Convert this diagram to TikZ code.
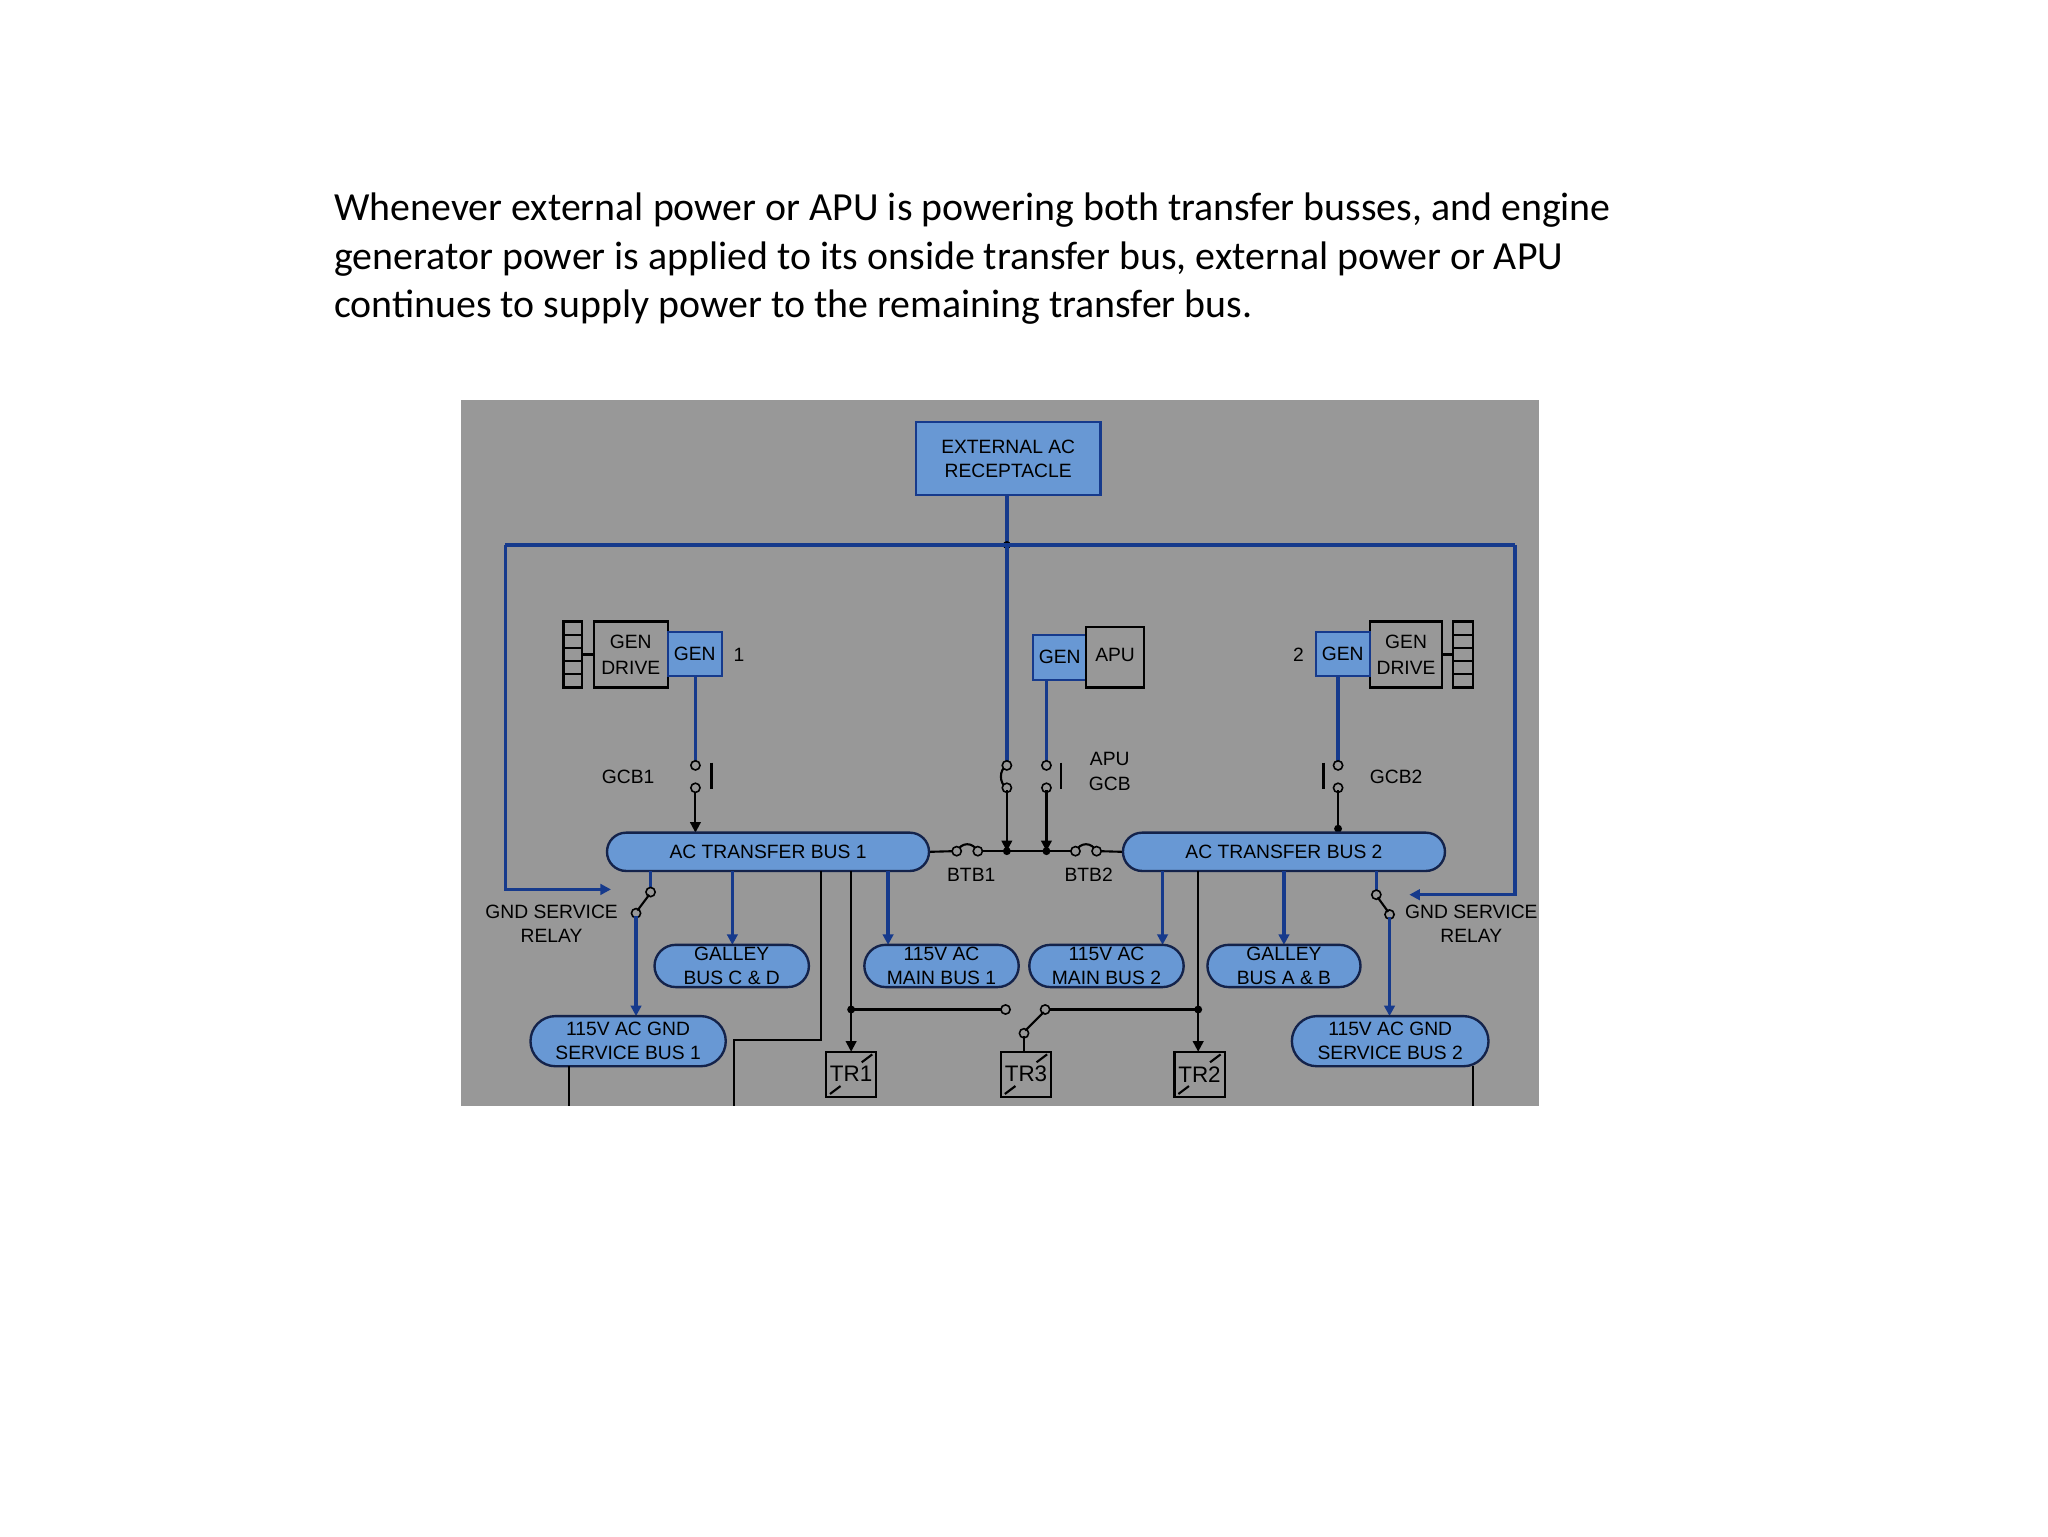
\documentclass[tikz,border=0pt]{standalone}
\usepackage{fontspec}
\setmainfont{Carlito}
\newfontfamily\dfont{Liberation Sans}
\usetikzlibrary{arrows.meta}
\definecolor{panel}{RGB}{152,152,152}
\definecolor{bfill}{RGB}{104,152,212}
\definecolor{bline}{RGB}{22,58,140}
\definecolor{pline}{RGB}{20,35,75}
\begin{document}
\begin{tikzpicture}[x=0.5pt,y=-0.5pt,
  lbl/.style={font=\dfont\fontsize{7.3}{8}\selectfont,inner sep=0,align=center},
  bx/.style={draw=black,line width=0.8pt},
  bbx/.style={draw=bline,fill=bfill,line width=0.8pt},
  rb/.style={draw=pline,fill=bfill,line width=0.9pt,rounded corners=#1,inner sep=0,align=center,font=\dfont\fontsize{7.3}{8}\selectfont},
  wire/.style={draw=bline,line width=1.3pt},
  bw/.style={draw=black,line width=0.8pt},
  arr/.style={-{Triangle[length=4pt,width=4pt]}},
  ct/.style={circle,draw=black,fill=panel,inner sep=0,minimum size=3.5pt,line width=0.6pt},
  dt/.style={circle,fill=black,inner sep=0,minimum size=3pt}]
\useasboundingbox (0,0) rectangle (1552,1164);
\node[anchor=north west,align=left,inner sep=0,font=\fontsize{15.1}{18.25}\selectfont] (title) at (253,146)
 {Whenever external power or APU is powering both transfer busses, and engine\\generator power is applied to its onside transfer bus, external power or APU\\continues to supply power to the remaining transfer bus.};
\fill[panel] (349,303) rectangle (1166,838);
\begin{scope}
\clip (349,303) rectangle (1166,838);
% external
\draw[bbx] (694,320) rectangle (834,375);
\node[lbl] (ext) at (764,347.5) {EXTERNAL AC\\[1pt]RECEPTACLE};
\coordinate (j) at (763,413);
\draw[wire] (763,375) -- (j);
\node[dt] at (j) {};
\draw[wire] (383,413) -- (1148,413);
\draw[wire,arr] (383,413) -- (383,674) -- (463,674);
\draw[wire,arr] (1148,413) -- (1148,678) -- (1068,678);
% gen 1
\draw[bx] (427,471) rectangle (441,521);
\foreach \y in {481,491,501,511} \draw[bw] (427,\y) -- (441,\y);
\draw[bw] (441,496) -- (450,496);
\draw[bx] (450,471) rectangle (506,521);
\node[lbl] (gd1) at (478,496) {GEN\\[2pt]DRIVE};
\draw[bbx] (506,479) rectangle (547,512);
\node[lbl] (g1) at (526.5,495.5) {GEN};
\node[lbl] at (560,496) {1};
% apu
\draw[bbx] (783,481) rectangle (823,515);
\node[lbl] (ga) at (803,498) {GEN};
\draw[bx] (823,475) rectangle (867,521);
\node[lbl] at (845,496) {APU};
% gen 2
\draw[bx] (1101,471) rectangle (1116,521);
\foreach \y in {481,491,501,511} \draw[bw] (1101,\y) -- (1116,\y);
\draw[bw] (1093,496) -- (1101,496);
\draw[bx] (1038,471) rectangle (1093,521);
\node[lbl] (gd2) at (1065.5,496) {GEN\\[2pt]DRIVE};
\draw[bbx] (997,479) rectangle (1038,512);
\node[lbl] (g2) at (1017.5,495.5) {GEN};
\node[lbl] at (984,496) {2};
% GCB1
\draw[wire] (527,512) -- (527,578);
\draw[bw,arr] (527,599) -- (527,631);
\node[ct] at (527,580) {}; \node[ct] at (527,597) {};
\draw[bw,line width=1pt] (539,578) -- (539,598);
\node[lbl] at (476,589) {GCB1};
% ext line
\draw[wire] (763,413) -- (763,578);
\draw[bw] (763,580) .. controls (757,583) and (757,594) .. (763,597);
\node[ct] at (763,580) {}; \node[ct] at (763,597) {};
\draw[bw,arr] (763,599) -- (763,645);
% APU GCB
\draw[wire] (793,515) -- (793,578);
\node[ct] at (793,580) {}; \node[ct] at (793,597) {};
\draw[bw,line width=1pt] (804,578) -- (804,598);
\draw[bw,arr] (793,599) -- (793,645);
\node[lbl] at (841,575) {APU};
\node[lbl] at (841,594) {GCB};
% GCB2
\draw[wire] (1014,512) -- (1014,578);
\node[ct] at (1014,580) {}; \node[ct] at (1014,597) {};
\draw[bw,line width=1pt] (1003,578) -- (1003,598);
\draw[bw] (1014,599) -- (1014,631);
\node[dt] at (1014,628) {};
\node[lbl] at (1058,589) {GCB2};
% buses
\node[rb=7.2pt,minimum width=122pt,minimum height=14.5pt] (tb1) at (582,645.5) {AC TRANSFER BUS 1};
\node[rb=7.2pt,minimum width=122pt,minimum height=14.5pt] (tb2) at (973,645.5) {AC TRANSFER BUS 2};
\draw[bw] (tb1.east) -- (723,645);
\draw[bw] (725,645) .. controls (729,638) and (737,638) .. (741,645);
\draw[bw] (743,645) -- (813,645);
\draw[bw] (815,645) .. controls (819,638) and (827,638) .. (831,645);
\draw[bw] (833,645) -- (tb2.west);
\node[ct] at (725,645) {}; \node[ct] at (741,645) {};
\node[ct] at (815,645) {}; \node[ct] at (831,645) {};
\node[dt] at (763,645) {}; \node[dt] at (793,645) {};
\node[lbl] at (736,663) {BTB1};
\node[lbl] at (825,663) {BTB2};
% GND service 1
\draw[wire] (493,660) -- (493,674);
\node[ct] at (493,676) {}; \node[ct] at (482,692) {};
\draw[bw] (492,678) -- (483,690);
\draw[wire,arr] (482,694) -- (482,770);
\node[lbl] at (418,700) {GND SERVICE\\[1pt]RELAY};
\node[rb=9.5pt,minimum width=74pt,minimum height=19pt] (gs1) at (476,789) {115V AC GND\\[1pt]SERVICE BUS 1};
\draw[bw] (431,808) -- (431,838);
% galley CD
\draw[wire,arr] (555,660) -- (555,716);
\node[rb=8pt,minimum width=58.5pt,minimum height=16pt] (gcd) at (554.5,732) {GALLEY\\[1pt]BUS C \& D};
\draw[bw] (622,660) -- (622,788) -- (556,788) -- (556,838);
% main 1
\draw[wire,arr] (673,660) -- (673,716);
\node[rb=8pt,minimum width=58.5pt,minimum height=16pt] (m1) at (713.5,732) {115V AC\\[1pt]MAIN BUS 1};
% main 2
\draw[wire,arr] (881,660) -- (881,716);
\node[rb=8pt,minimum width=58.5pt,minimum height=16pt] (m2) at (838.5,732) {115V AC\\[1pt]MAIN BUS 2};
% galley AB
\draw[wire,arr] (973,660) -- (973,716);
\node[rb=8pt,minimum width=58pt,minimum height=16pt] (gab) at (973,732) {GALLEY\\[1pt]BUS A \& B};
% GND service 2
\draw[wire] (1043,660) -- (1043,676);
\node[ct] at (1043,678) {}; \node[ct] at (1053,693) {};
\draw[bw] (1044,680) -- (1052,691);
\draw[wire,arr] (1053,695) -- (1053,770);
\node[lbl] at (1115,700) {GND SERVICE\\[1pt]RELAY};
\node[rb=9.5pt,minimum width=74.5pt,minimum height=19pt] (gs2) at (1053.5,789) {115V AC GND\\[1pt]SERVICE BUS 2};
\draw[bw] (1116,808) -- (1116,838);
% TRs
\draw[bw,arr] (645,660) -- (645,797);
\draw[bw,arr] (908,660) -- (908,797);
\node[dt] at (645,765) {}; \node[dt] at (908,765) {};
\draw[bw] (645,765) -- (760,765);
\draw[bw] (908,765) -- (794,765);
\node[ct] at (762,765) {}; \node[ct] at (792,765) {};
\node[ct] at (776,783) {};
\draw[bw] (777,781) -- (791,767);
\draw[bw] (776,785) -- (776,797);
\foreach \x/\t in {645/TR1,777.5/TR3,909/TR2}{
  \draw[bx] (\x-19,797) rectangle (\x+19,831);
  \draw[bw] (\x+8,805) -- (\x+16,799);
  \draw[bw] (\x-16,829) -- (\x-8,823);
  \node[lbl,font=\dfont\fontsize{8.5}{9}\selectfont] at (\x,814) {\t};
}
\end{scope}
\end{tikzpicture}
\end{document}
